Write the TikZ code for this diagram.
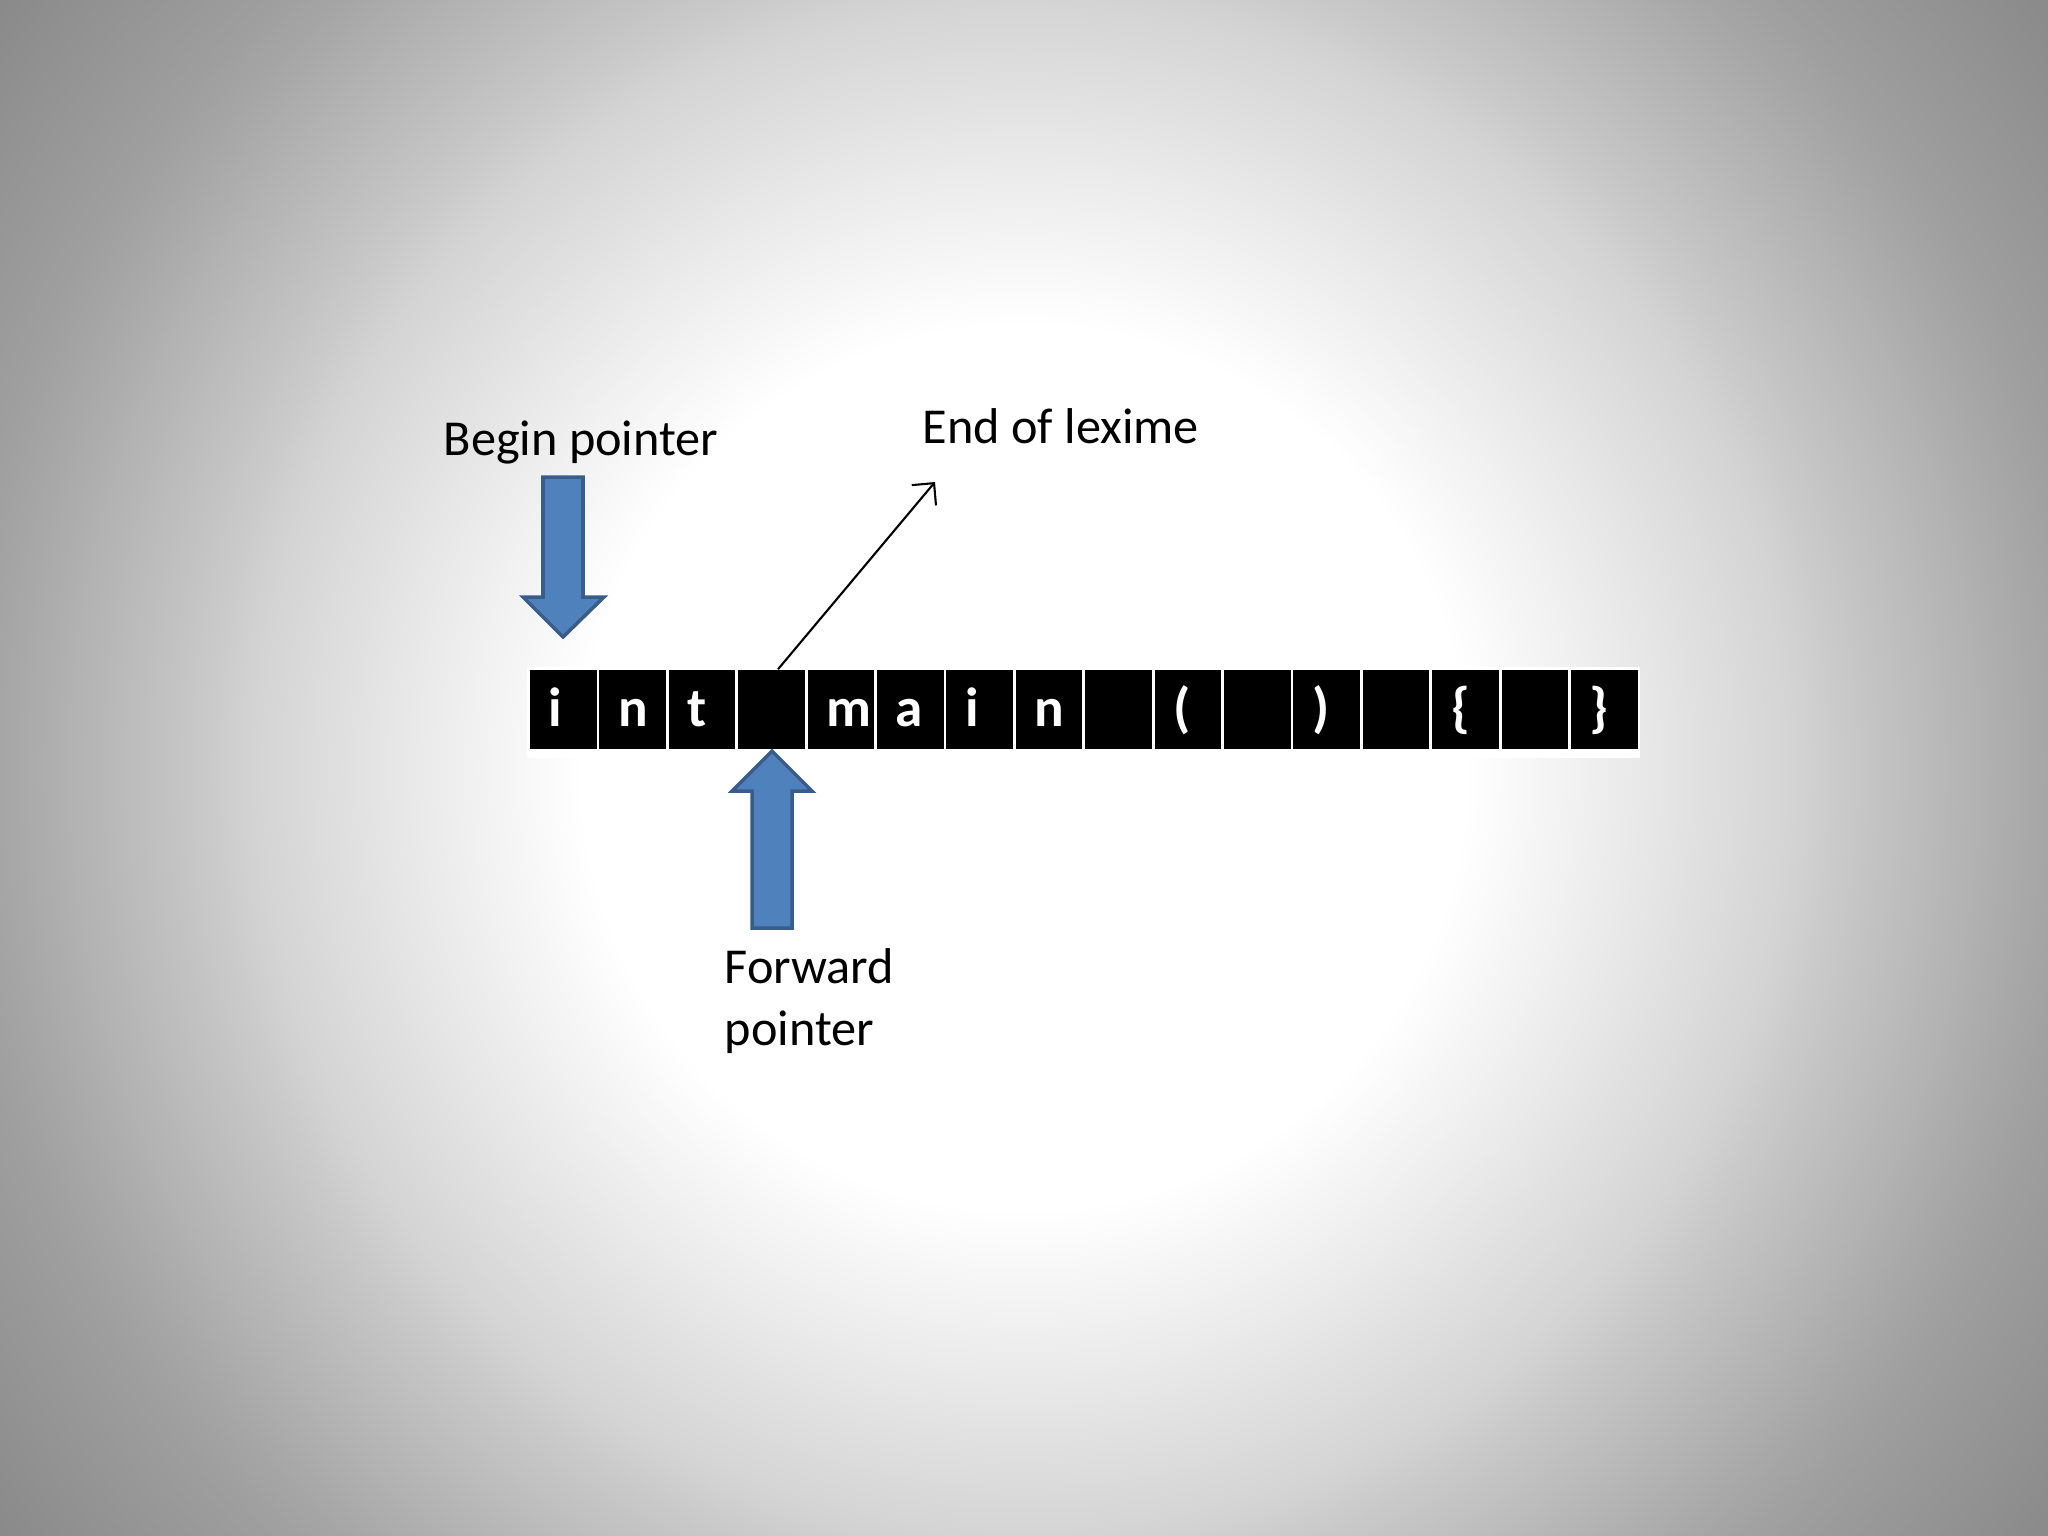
\documentclass[tikz,border=0pt]{standalone}
\usepackage{fontspec}
\setmainfont{Carlito}
\usetikzlibrary{arrows.meta}
\definecolor{bgA}{gray}{0.91}
\definecolor{bgB}{gray}{0.83}
\definecolor{bgC}{gray}{0.785}
\definecolor{bgD}{gray}{0.65}
\definecolor{bgE}{gray}{0.62}
\definecolor{bgF}{gray}{0.54}
\definecolor{bgG}{gray}{0.535}
\definecolor{blockfill}{HTML}{4F81BD}
\definecolor{blockline}{HTML}{385D8A}
\pgfdeclareradialshading{bgshade}{\pgfpointorigin}{color(0bp)=(white); color(8.5bp)=(white); color(11.9bp)=(bgA); color(14.8bp)=(bgB); color(15.85bp)=(bgC); color(19.7bp)=(bgD); color(20.7bp)=(bgE); color(24.6bp)=(bgF); color(25bp)=(bgG); color(50bp)=(bgG)}
\tikzset{
  cellbox/.style={fill=black, text=white, minimum width=18.95pt, minimum height=22.48pt,
    inner xsep=5.4pt, inner ysep=0pt, text width=8.15pt, align=left,
    text height=9.4pt, text depth=0pt, font=\bfseries\fontsize{15.7pt}{15.7pt}\selectfont},
  lbl/.style={inner sep=0pt, text=black, font=\fontsize{14.3pt}{17.6pt}\selectfont},
  blockarrow/.style={fill=blockfill, draw=blockline, line width=1pt, line join=miter},
  lexarrow/.style={draw=black, line width=0.6pt, -{Straight Barb[length=4.5pt,width=9pt]}}
}
\begin{document}
\begin{tikzpicture}[x=0.01cm,y=-0.01cm]
\useasboundingbox (0,0) rectangle (2048,1536);
\begin{scope}
\clip (0,0) rectangle (2048,1536);
\shade[shading=bgshade] (-276,-532) rectangle (2324,2068);
\end{scope}
% white backing of the buffer
\fill[white] (527,667) rectangle (1640,758);
% cells
\foreach \t [count=\i from 0] in {{i},{n},{t},{},{m},{a},{i},{n},{},{(},{},{)},{},{\{},{},{\}}}{
  \node[cellbox] (c\i) at (563.3+69.4*\i,709.5) {\t};
}
% begin pointer
\draw[blockarrow] (543,477) -- (583,477) -- (583,597) -- (604,597) -- (563,637) -- (523,597) -- (543,597) -- cycle;
% forward pointer
\draw[blockarrow] (772,751) -- (812,791) -- (792,791) -- (792,928) -- (752,928) -- (752,791) -- (732,791) -- cycle;
% labels
\node[lbl, anchor=base west] (begin) at (443,455) {Begin pointer};
\node[lbl, anchor=base west] (endlex) at (922,443) {End of lexime};
\node[lbl, anchor=base west, align=left] (fwd) at (724,1045) {Forward\\pointer};
% end of lexeme connector
\coordinate (lexend) at (935,482);
\draw[lexarrow] ([xshift=1.85pt]c3.north) -- (lexend);
\end{tikzpicture}
\end{document}
